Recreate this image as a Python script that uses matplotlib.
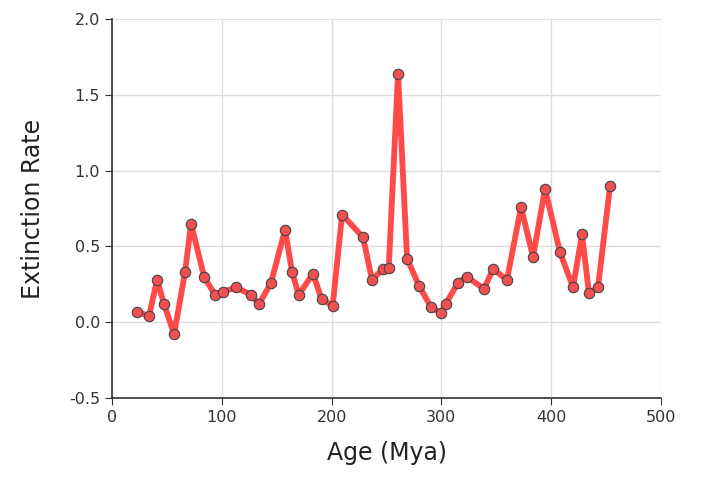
import matplotlib
matplotlib.use("Agg")
import matplotlib.pyplot as plt

age = [22.8, 33.7, 41, 47.4, 56.5, 66.5, 72, 83.8, 93.8, 101, 113, 126.6, 134, 144.8,
       157.6, 164, 170, 183, 191, 201, 209.5, 228.6, 236.8, 246.8, 252, 260.5, 268.7,
       279.6, 290.5, 299.6, 304, 315, 323, 338.8, 347, 359.7, 372.5, 383.4, 394.4, 408,
       419.9, 428, 434.4, 442.6, 453.6]
rate = [0.07, 0.04, 0.28, 0.12, -0.08, 0.33, 0.65, 0.30, 0.18, 0.20, 0.23, 0.18, 0.12, 0.26,
        0.61, 0.33, 0.18, 0.32, 0.15, 0.11, 0.71, 0.56, 0.28, 0.35, 0.36, 1.64, 0.42,
        0.24, 0.10, 0.06, 0.12, 0.26, 0.30, 0.22, 0.35, 0.28, 0.76, 0.43, 0.88, 0.46,
        0.23, 0.58, 0.19, 0.23, 0.90]
xticks = [0, 100, 200, 300, 400, 500]
yticks = [-0.5, 0.0, 0.5, 1.0, 1.5, 2.0]

fig = plt.figure(figsize=(7.2, 4.99), dpi=100)
ax = fig.add_axes([0.1556, 0.2024, 0.7625, 0.7596])
ax.plot(age, rate, color="#ff4a4a", lw=4.2, solid_joinstyle="round", zorder=3)
ax.plot(age, rate, ls="none", marker="o", ms=7.5, mfc="#f05050", mec="#444444", mew=0.8, zorder=4)

ax.set_xlim(0, 500)
ax.set_ylim(-0.5, 2.0)
ax.set_xticks(xticks)
ax.set_yticks(yticks)
ax.set_yticklabels([f"{v:.1f}" for v in yticks])
ax.grid(True, color="#dddddd", lw=1)
ax.set_axisbelow(True)
for s in ["top", "right"]:
    ax.spines[s].set_visible(False)
for s in ["left", "bottom"]:
    ax.spines[s].set_color("#333333")
    ax.spines[s].set_linewidth(1.2)
ax.tick_params(colors="#333333", labelsize=11.5, length=5, labelcolor="#333333")
ax.set_xlabel("Age (Mya)", fontsize=17, color="#222222", labelpad=12)
ax.set_ylabel("Extinction Rate", fontsize=17, color="#222222", labelpad=17)

fig.savefig("out.png", dpi=100)
